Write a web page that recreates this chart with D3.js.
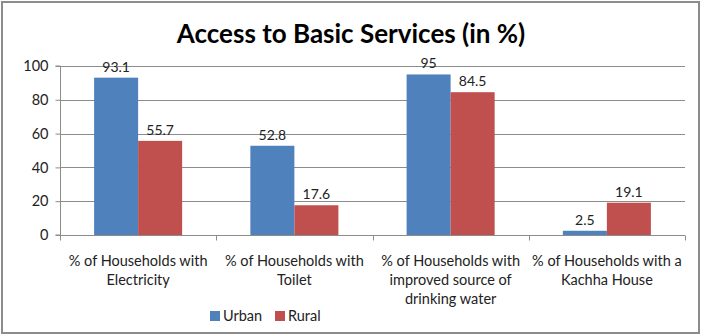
<!DOCTYPE html>
<html><head><meta charset="utf-8">
<script src="https://cdn.jsdelivr.net/npm/d3@7"></script>
<style>body{margin:0;background:#fff}svg{display:block}text{font-family:Lato,"Open Sans",sans-serif}</style>
</head><body><svg id="c" width="702" height="336"></svg>
<script>
const categories = [
  ["% of Households with", "Electricity"],
  ["% of Households with", "Toilet"],
  ["% of Households with", "improved source of", "drinking water"],
  ["% of Households with a", "Kachha House"]
];
const seriesNames = ["Urban", "Rural"];
const urban = [93.1, 52.8, 95, 2.5];
const rural = [55.7, 17.6, 84.5, 19.1];
const yTicks = [0, 20, 40, 60, 80, 100];
const colors = ["#4F81BD", "#C0504D"];

(function(){
const svg = d3.select("#c");
svg.append("rect").attr("x",2).attr("y",2).attr("width",697).attr("height",331)
  .attr("fill","#fff").attr("stroke","#8c8c8c").attr("stroke-width",2);

svg.append("text").attr("x",351).attr("y",43).attr("text-anchor","middle")
  .attr("font-size",26).attr("font-weight","bold").attr("fill","#000")
  .text("Access to Basic Services (in %)");

const pL=60, pR=685, pT=66, pB=235;
const x = d3.scaleBand().domain(d3.range(categories.length)).range([pL,pR]);
const y = d3.scaleLinear().domain([0,100]).range([pB,pT]);
const xs = d3.scaleBand().domain([0,1]).range([0,x.bandwidth()]).paddingInner(0).paddingOuter(0.775);

svg.append("g").selectAll("line").data(yTicks.filter(d=>d>0)).join("line")
  .attr("x1",pL).attr("x2",pR).attr("y1",d=>Math.round(y(d))+0.5).attr("y2",d=>Math.round(y(d))+0.5)
  .attr("stroke","#8c8c8c").attr("stroke-width",1);

const data = categories.map((c,i)=>[urban[i], rural[i]]);
const g = svg.append("g");
data.forEach((vals,i)=>{
  vals.forEach((v,j)=>{
    const bx = x(i)+xs(j);
    g.append("rect").attr("x",bx).attr("y",y(v)).attr("width",xs.bandwidth()).attr("height",pB-y(v))
      .attr("fill",colors[j]);
    g.append("text").attr("x",bx+xs.bandwidth()/2).attr("y",y(v)-6).attr("text-anchor","middle")
      .attr("font-size",14).attr("fill","#222").text(v);
  });
});

const ya = svg.append("g").attr("transform",`translate(${pL+0.5},0)`)
  .call(d3.axisLeft(y).tickValues(yTicks).tickSize(5).tickPadding(7).tickFormat(d3.format("d")));
ya.select(".domain").attr("stroke","#8c8c8c").attr("d",`M-5,${pT}H0V${pB}H-5`);
ya.selectAll(".tick line").attr("stroke","#8c8c8c");
ya.selectAll("text").attr("font-size",14.5).attr("fill","#222").style("font-family","Lato,'Open Sans',sans-serif");

const xa = svg.append("g").attr("transform",`translate(0,${pB+0.5})`);
xa.append("line").attr("x1",pL).attr("x2",pR).attr("stroke","#8c8c8c");
d3.range(categories.length+1).forEach(i=>{
  const px = Math.round(pL + i*x.step())+0.5;
  xa.append("line").attr("x1",px).attr("x2",px).attr("y1",0).attr("y2",5).attr("stroke","#8c8c8c");
});
categories.forEach((lines,i)=>{
  const t = svg.append("text").attr("text-anchor","middle").attr("font-size",14.5).attr("fill","#222");
  lines.forEach((l,k)=>{
    t.append("tspan").attr("x",x(i)+x.bandwidth()/2).attr("y",266+k*19).text(l);
  });
});

const lg = svg.append("g");
const legX = [210, 275];
seriesNames.forEach((n,j)=>{
  lg.append("rect").attr("x",legX[j]).attr("y",311).attr("width",10).attr("height",10).attr("fill",colors[j]);
  lg.append("text").attr("x",legX[j]+13).attr("y",321).attr("font-size",14.5).attr("fill","#222").text(n);
});
})();
</script></body></html>
